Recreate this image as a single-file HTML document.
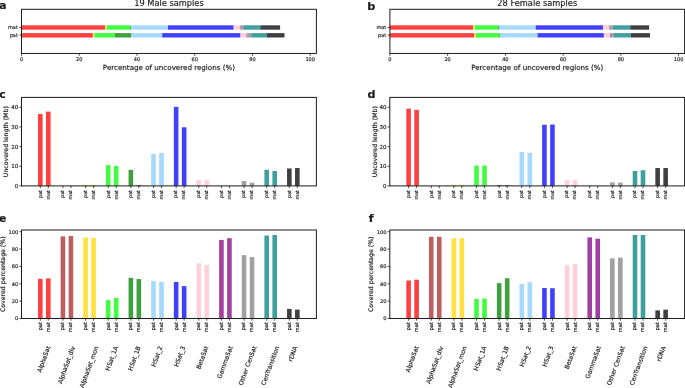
<!DOCTYPE html>
<html><head><meta charset="utf-8"><title>Uncovered regions</title>
<style>
html,body{margin:0;padding:0;background:#fff;}
svg{display:block;}
text{font-family:"DejaVu Sans","Liberation Sans",sans-serif;fill:#1a1a1a;stroke:#1a1a1a;stroke-width:0.16px;stroke-linejoin:round;}
</style></head><body>
<svg width="685" height="388" viewBox="0 0 685 388">
<rect width="685" height="388" fill="#fff"/>
<rect x="21.50" y="25.30" width="83.60" height="4.40" fill="#ff4040"/>
<rect x="105.10" y="25.30" width="1.40" height="4.40" fill="#ffe140"/>
<rect x="106.50" y="25.30" width="23.80" height="4.40" fill="#40ff40"/>
<rect x="130.30" y="25.30" width="0.90" height="4.40" fill="#40a040"/>
<rect x="131.20" y="25.30" width="36.80" height="4.40" fill="#a5dafb"/>
<rect x="168.00" y="25.30" width="65.70" height="4.40" fill="#4040ff"/>
<rect x="233.70" y="25.30" width="6.40" height="4.40" fill="#ffd0d8"/>
<rect x="240.10" y="25.30" width="0.50" height="4.40" fill="#a040a0"/>
<rect x="240.60" y="25.30" width="3.40" height="4.40" fill="#a0a0a0"/>
<rect x="244.00" y="25.30" width="16.30" height="4.40" fill="#40a0a0"/>
<rect x="260.30" y="25.30" width="19.80" height="4.40" fill="#404040"/>
<rect x="21.50" y="33.10" width="71.40" height="4.40" fill="#ff4040"/>
<rect x="92.90" y="33.10" width="1.40" height="4.40" fill="#ffe140"/>
<rect x="94.30" y="33.10" width="20.60" height="4.40" fill="#40ff40"/>
<rect x="114.90" y="33.10" width="16.10" height="4.40" fill="#40a040"/>
<rect x="131.00" y="33.10" width="31.20" height="4.40" fill="#a5dafb"/>
<rect x="162.20" y="33.10" width="78.30" height="4.40" fill="#4040ff"/>
<rect x="240.50" y="33.10" width="6.10" height="4.40" fill="#ffd0d8"/>
<rect x="246.60" y="33.10" width="0.80" height="4.40" fill="#a040a0"/>
<rect x="247.40" y="33.10" width="3.80" height="4.40" fill="#a0a0a0"/>
<rect x="251.20" y="33.10" width="15.80" height="4.40" fill="#40a0a0"/>
<rect x="267.00" y="33.10" width="17.50" height="4.40" fill="#404040"/>
<rect x="21.50" y="9.30" width="294.90" height="44.15" fill="none" stroke="#1c1c1c" stroke-width="1.0"/>
<line x1="21.50" y1="53.45" x2="21.50" y2="55.75" stroke="#1c1c1c" stroke-width="0.8"/>
<text x="21.50" y="61.10" font-size="5.0" text-anchor="middle">0</text>
<line x1="79.24" y1="53.45" x2="79.24" y2="55.75" stroke="#1c1c1c" stroke-width="0.8"/>
<text x="79.24" y="61.10" font-size="5.0" text-anchor="middle">20</text>
<line x1="136.98" y1="53.45" x2="136.98" y2="55.75" stroke="#1c1c1c" stroke-width="0.8"/>
<text x="136.98" y="61.10" font-size="5.0" text-anchor="middle">40</text>
<line x1="194.72" y1="53.45" x2="194.72" y2="55.75" stroke="#1c1c1c" stroke-width="0.8"/>
<text x="194.72" y="61.10" font-size="5.0" text-anchor="middle">60</text>
<line x1="252.46" y1="53.45" x2="252.46" y2="55.75" stroke="#1c1c1c" stroke-width="0.8"/>
<text x="252.46" y="61.10" font-size="5.0" text-anchor="middle">80</text>
<line x1="310.20" y1="53.45" x2="310.20" y2="55.75" stroke="#1c1c1c" stroke-width="0.8"/>
<text x="310.20" y="61.10" font-size="5.0" text-anchor="middle">100</text>
<line x1="19.30" y1="27.50" x2="21.50" y2="27.50" stroke="#1c1c1c" stroke-width="0.8"/>
<text x="17.90" y="29.10" font-size="5.0" text-anchor="end">mat</text>
<line x1="19.30" y1="35.10" x2="21.50" y2="35.10" stroke="#1c1c1c" stroke-width="0.8"/>
<text x="17.90" y="36.70" font-size="5.0" text-anchor="end">pat</text>
<text x="168.95" y="6.00" font-size="8.25" text-anchor="middle">19 Male samples</text>
<text x="168.95" y="69.60" font-size="7.14" text-anchor="middle">Percentage of uncovered regions (%)</text>
<rect x="389.90" y="25.30" width="83.20" height="4.40" fill="#ff4040"/>
<rect x="473.10" y="25.30" width="1.60" height="4.40" fill="#ffe140"/>
<rect x="474.70" y="25.30" width="23.50" height="4.40" fill="#40ff40"/>
<rect x="498.20" y="25.30" width="0.80" height="4.40" fill="#40a040"/>
<rect x="499.00" y="25.30" width="36.70" height="4.40" fill="#a5dafb"/>
<rect x="535.70" y="25.30" width="67.30" height="4.40" fill="#4040ff"/>
<rect x="603.00" y="25.30" width="6.10" height="4.40" fill="#ffd0d8"/>
<rect x="609.10" y="25.30" width="0.50" height="4.40" fill="#a040a0"/>
<rect x="609.60" y="25.30" width="3.10" height="4.40" fill="#a0a0a0"/>
<rect x="612.70" y="25.30" width="17.50" height="4.40" fill="#40a0a0"/>
<rect x="630.20" y="25.30" width="18.90" height="4.40" fill="#404040"/>
<rect x="389.90" y="33.10" width="84.50" height="4.40" fill="#ff4040"/>
<rect x="474.40" y="33.10" width="1.60" height="4.40" fill="#ffe140"/>
<rect x="476.00" y="33.10" width="23.40" height="4.40" fill="#40ff40"/>
<rect x="499.40" y="33.10" width="1.00" height="4.40" fill="#40a040"/>
<rect x="500.40" y="33.10" width="37.20" height="4.40" fill="#a5dafb"/>
<rect x="537.60" y="33.10" width="66.30" height="4.40" fill="#4040ff"/>
<rect x="603.90" y="33.10" width="6.30" height="4.40" fill="#ffd0d8"/>
<rect x="610.20" y="33.10" width="0.70" height="4.40" fill="#a040a0"/>
<rect x="610.90" y="33.10" width="3.10" height="4.40" fill="#a0a0a0"/>
<rect x="614.00" y="33.10" width="16.70" height="4.40" fill="#40a0a0"/>
<rect x="630.70" y="33.10" width="19.30" height="4.40" fill="#404040"/>
<rect x="389.90" y="9.30" width="294.70" height="44.15" fill="none" stroke="#1c1c1c" stroke-width="1.0"/>
<line x1="389.90" y1="53.45" x2="389.90" y2="55.75" stroke="#1c1c1c" stroke-width="0.8"/>
<text x="389.90" y="61.10" font-size="5.0" text-anchor="middle">0</text>
<line x1="447.64" y1="53.45" x2="447.64" y2="55.75" stroke="#1c1c1c" stroke-width="0.8"/>
<text x="447.64" y="61.10" font-size="5.0" text-anchor="middle">20</text>
<line x1="505.38" y1="53.45" x2="505.38" y2="55.75" stroke="#1c1c1c" stroke-width="0.8"/>
<text x="505.38" y="61.10" font-size="5.0" text-anchor="middle">40</text>
<line x1="563.12" y1="53.45" x2="563.12" y2="55.75" stroke="#1c1c1c" stroke-width="0.8"/>
<text x="563.12" y="61.10" font-size="5.0" text-anchor="middle">60</text>
<line x1="620.86" y1="53.45" x2="620.86" y2="55.75" stroke="#1c1c1c" stroke-width="0.8"/>
<text x="620.86" y="61.10" font-size="5.0" text-anchor="middle">80</text>
<line x1="678.60" y1="53.45" x2="678.60" y2="55.75" stroke="#1c1c1c" stroke-width="0.8"/>
<text x="678.60" y="61.10" font-size="5.0" text-anchor="middle">100</text>
<line x1="387.70" y1="27.50" x2="389.90" y2="27.50" stroke="#1c1c1c" stroke-width="0.8"/>
<text x="386.30" y="29.10" font-size="5.0" text-anchor="end">mat</text>
<line x1="387.70" y1="35.10" x2="389.90" y2="35.10" stroke="#1c1c1c" stroke-width="0.8"/>
<text x="386.30" y="36.70" font-size="5.0" text-anchor="end">pat</text>
<text x="537.25" y="6.00" font-size="8.25" text-anchor="middle">28 Female samples</text>
<text x="537.25" y="69.60" font-size="7.14" text-anchor="middle">Percentage of uncovered regions (%)</text>
<rect x="38.00" y="113.96" width="4.60" height="71.94" fill="#ff4040"/>
<rect x="46.00" y="111.61" width="4.60" height="74.29" fill="#ff4040"/>
<rect x="83.28" y="184.81" width="4.60" height="1.09" fill="#ffe140"/>
<rect x="91.28" y="184.81" width="4.60" height="1.09" fill="#ffe140"/>
<rect x="105.92" y="165.12" width="4.60" height="20.78" fill="#40ff40"/>
<rect x="113.92" y="165.90" width="4.60" height="20.00" fill="#40ff40"/>
<rect x="128.56" y="169.82" width="4.60" height="16.08" fill="#40a040"/>
<rect x="136.56" y="184.91" width="4.60" height="0.99" fill="#40a040"/>
<rect x="151.20" y="153.94" width="4.60" height="31.96" fill="#a5dafb"/>
<rect x="159.20" y="152.96" width="4.60" height="32.94" fill="#a5dafb"/>
<rect x="173.84" y="106.90" width="4.60" height="79.00" fill="#4040ff"/>
<rect x="181.84" y="127.29" width="4.60" height="58.61" fill="#4040ff"/>
<rect x="196.48" y="180.01" width="4.60" height="5.89" fill="#ffd0d8"/>
<rect x="204.48" y="180.01" width="4.60" height="5.89" fill="#ffd0d8"/>
<rect x="241.76" y="180.99" width="4.60" height="4.91" fill="#a0a0a0"/>
<rect x="249.76" y="182.76" width="4.60" height="3.14" fill="#a0a0a0"/>
<rect x="264.40" y="169.82" width="4.60" height="16.08" fill="#40a0a0"/>
<rect x="272.40" y="171.00" width="4.60" height="14.90" fill="#40a0a0"/>
<rect x="287.04" y="168.45" width="4.60" height="17.45" fill="#404040"/>
<rect x="295.04" y="168.06" width="4.60" height="17.84" fill="#404040"/>
<rect x="21.50" y="97.40" width="294.90" height="88.50" fill="none" stroke="#1c1c1c" stroke-width="1.0"/>
<line x1="19.30" y1="185.90" x2="21.50" y2="185.90" stroke="#1c1c1c" stroke-width="0.8"/>
<text x="18.30" y="187.91" font-size="5.5" text-anchor="end">0</text>
<line x1="19.30" y1="166.25" x2="21.50" y2="166.25" stroke="#1c1c1c" stroke-width="0.8"/>
<text x="18.30" y="168.26" font-size="5.5" text-anchor="end">10</text>
<line x1="19.30" y1="146.60" x2="21.50" y2="146.60" stroke="#1c1c1c" stroke-width="0.8"/>
<text x="18.30" y="148.61" font-size="5.5" text-anchor="end">20</text>
<line x1="19.30" y1="126.95" x2="21.50" y2="126.95" stroke="#1c1c1c" stroke-width="0.8"/>
<text x="18.30" y="128.96" font-size="5.5" text-anchor="end">30</text>
<line x1="19.30" y1="107.30" x2="21.50" y2="107.30" stroke="#1c1c1c" stroke-width="0.8"/>
<text x="18.30" y="109.31" font-size="5.5" text-anchor="end">40</text>
<line x1="40.30" y1="185.90" x2="40.30" y2="188.10" stroke="#1c1c1c" stroke-width="0.8"/>
<text x="41.64" y="190.00" font-size="4.8" text-anchor="end" transform="rotate(-90 41.64 190.00)">pat</text>
<line x1="48.30" y1="185.90" x2="48.30" y2="188.10" stroke="#1c1c1c" stroke-width="0.8"/>
<text x="49.64" y="190.00" font-size="4.8" text-anchor="end" transform="rotate(-90 49.64 190.00)">mat</text>
<line x1="62.94" y1="185.90" x2="62.94" y2="188.10" stroke="#1c1c1c" stroke-width="0.8"/>
<text x="64.28" y="190.00" font-size="4.8" text-anchor="end" transform="rotate(-90 64.28 190.00)">pat</text>
<line x1="70.94" y1="185.90" x2="70.94" y2="188.10" stroke="#1c1c1c" stroke-width="0.8"/>
<text x="72.28" y="190.00" font-size="4.8" text-anchor="end" transform="rotate(-90 72.28 190.00)">mat</text>
<line x1="85.58" y1="185.90" x2="85.58" y2="188.10" stroke="#1c1c1c" stroke-width="0.8"/>
<text x="86.92" y="190.00" font-size="4.8" text-anchor="end" transform="rotate(-90 86.92 190.00)">pat</text>
<line x1="93.58" y1="185.90" x2="93.58" y2="188.10" stroke="#1c1c1c" stroke-width="0.8"/>
<text x="94.92" y="190.00" font-size="4.8" text-anchor="end" transform="rotate(-90 94.92 190.00)">mat</text>
<line x1="108.22" y1="185.90" x2="108.22" y2="188.10" stroke="#1c1c1c" stroke-width="0.8"/>
<text x="109.56" y="190.00" font-size="4.8" text-anchor="end" transform="rotate(-90 109.56 190.00)">pat</text>
<line x1="116.22" y1="185.90" x2="116.22" y2="188.10" stroke="#1c1c1c" stroke-width="0.8"/>
<text x="117.56" y="190.00" font-size="4.8" text-anchor="end" transform="rotate(-90 117.56 190.00)">mat</text>
<line x1="130.86" y1="185.90" x2="130.86" y2="188.10" stroke="#1c1c1c" stroke-width="0.8"/>
<text x="132.20" y="190.00" font-size="4.8" text-anchor="end" transform="rotate(-90 132.20 190.00)">pat</text>
<line x1="138.86" y1="185.90" x2="138.86" y2="188.10" stroke="#1c1c1c" stroke-width="0.8"/>
<text x="140.20" y="190.00" font-size="4.8" text-anchor="end" transform="rotate(-90 140.20 190.00)">mat</text>
<line x1="153.50" y1="185.90" x2="153.50" y2="188.10" stroke="#1c1c1c" stroke-width="0.8"/>
<text x="154.84" y="190.00" font-size="4.8" text-anchor="end" transform="rotate(-90 154.84 190.00)">pat</text>
<line x1="161.50" y1="185.90" x2="161.50" y2="188.10" stroke="#1c1c1c" stroke-width="0.8"/>
<text x="162.84" y="190.00" font-size="4.8" text-anchor="end" transform="rotate(-90 162.84 190.00)">mat</text>
<line x1="176.14" y1="185.90" x2="176.14" y2="188.10" stroke="#1c1c1c" stroke-width="0.8"/>
<text x="177.48" y="190.00" font-size="4.8" text-anchor="end" transform="rotate(-90 177.48 190.00)">pat</text>
<line x1="184.14" y1="185.90" x2="184.14" y2="188.10" stroke="#1c1c1c" stroke-width="0.8"/>
<text x="185.48" y="190.00" font-size="4.8" text-anchor="end" transform="rotate(-90 185.48 190.00)">mat</text>
<line x1="198.78" y1="185.90" x2="198.78" y2="188.10" stroke="#1c1c1c" stroke-width="0.8"/>
<text x="200.12" y="190.00" font-size="4.8" text-anchor="end" transform="rotate(-90 200.12 190.00)">pat</text>
<line x1="206.78" y1="185.90" x2="206.78" y2="188.10" stroke="#1c1c1c" stroke-width="0.8"/>
<text x="208.12" y="190.00" font-size="4.8" text-anchor="end" transform="rotate(-90 208.12 190.00)">mat</text>
<line x1="221.42" y1="185.90" x2="221.42" y2="188.10" stroke="#1c1c1c" stroke-width="0.8"/>
<text x="222.76" y="190.00" font-size="4.8" text-anchor="end" transform="rotate(-90 222.76 190.00)">pat</text>
<line x1="229.42" y1="185.90" x2="229.42" y2="188.10" stroke="#1c1c1c" stroke-width="0.8"/>
<text x="230.76" y="190.00" font-size="4.8" text-anchor="end" transform="rotate(-90 230.76 190.00)">mat</text>
<line x1="244.06" y1="185.90" x2="244.06" y2="188.10" stroke="#1c1c1c" stroke-width="0.8"/>
<text x="245.40" y="190.00" font-size="4.8" text-anchor="end" transform="rotate(-90 245.40 190.00)">pat</text>
<line x1="252.06" y1="185.90" x2="252.06" y2="188.10" stroke="#1c1c1c" stroke-width="0.8"/>
<text x="253.40" y="190.00" font-size="4.8" text-anchor="end" transform="rotate(-90 253.40 190.00)">mat</text>
<line x1="266.70" y1="185.90" x2="266.70" y2="188.10" stroke="#1c1c1c" stroke-width="0.8"/>
<text x="268.04" y="190.00" font-size="4.8" text-anchor="end" transform="rotate(-90 268.04 190.00)">pat</text>
<line x1="274.70" y1="185.90" x2="274.70" y2="188.10" stroke="#1c1c1c" stroke-width="0.8"/>
<text x="276.04" y="190.00" font-size="4.8" text-anchor="end" transform="rotate(-90 276.04 190.00)">mat</text>
<line x1="289.34" y1="185.90" x2="289.34" y2="188.10" stroke="#1c1c1c" stroke-width="0.8"/>
<text x="290.68" y="190.00" font-size="4.8" text-anchor="end" transform="rotate(-90 290.68 190.00)">pat</text>
<line x1="297.34" y1="185.90" x2="297.34" y2="188.10" stroke="#1c1c1c" stroke-width="0.8"/>
<text x="298.68" y="190.00" font-size="4.8" text-anchor="end" transform="rotate(-90 298.68 190.00)">mat</text>
<text x="8.00" y="141.65" font-size="6.2" text-anchor="middle" transform="rotate(-90 8.00 141.65)">Uncovered length (Mb)</text>
<rect x="406.30" y="108.67" width="4.60" height="77.23" fill="#ff4040"/>
<rect x="414.30" y="109.84" width="4.60" height="76.06" fill="#ff4040"/>
<rect x="451.58" y="184.72" width="4.60" height="1.18" fill="#ffe140"/>
<rect x="459.58" y="184.72" width="4.60" height="1.18" fill="#ffe140"/>
<rect x="474.22" y="165.51" width="4.60" height="20.39" fill="#40ff40"/>
<rect x="482.22" y="165.51" width="4.60" height="20.39" fill="#40ff40"/>
<rect x="496.86" y="184.91" width="4.60" height="0.99" fill="#40a040"/>
<rect x="504.86" y="185.01" width="4.60" height="0.89" fill="#40a040"/>
<rect x="519.50" y="151.98" width="4.60" height="33.92" fill="#a5dafb"/>
<rect x="527.50" y="152.77" width="4.60" height="33.13" fill="#a5dafb"/>
<rect x="542.14" y="124.74" width="4.60" height="61.16" fill="#4040ff"/>
<rect x="550.14" y="124.54" width="4.60" height="61.36" fill="#4040ff"/>
<rect x="564.78" y="180.01" width="4.60" height="5.89" fill="#ffd0d8"/>
<rect x="572.78" y="180.01" width="4.60" height="5.89" fill="#ffd0d8"/>
<rect x="610.06" y="182.36" width="4.60" height="3.54" fill="#a0a0a0"/>
<rect x="618.06" y="182.56" width="4.60" height="3.34" fill="#a0a0a0"/>
<rect x="632.70" y="171.00" width="4.60" height="14.90" fill="#40a0a0"/>
<rect x="640.70" y="170.21" width="4.60" height="15.69" fill="#40a0a0"/>
<rect x="655.34" y="168.06" width="4.60" height="17.84" fill="#404040"/>
<rect x="663.34" y="168.06" width="4.60" height="17.84" fill="#404040"/>
<rect x="389.80" y="97.40" width="294.80" height="88.50" fill="none" stroke="#1c1c1c" stroke-width="1.0"/>
<line x1="387.60" y1="185.90" x2="389.80" y2="185.90" stroke="#1c1c1c" stroke-width="0.8"/>
<text x="386.60" y="187.91" font-size="5.5" text-anchor="end">0</text>
<line x1="387.60" y1="166.25" x2="389.80" y2="166.25" stroke="#1c1c1c" stroke-width="0.8"/>
<text x="386.60" y="168.26" font-size="5.5" text-anchor="end">10</text>
<line x1="387.60" y1="146.60" x2="389.80" y2="146.60" stroke="#1c1c1c" stroke-width="0.8"/>
<text x="386.60" y="148.61" font-size="5.5" text-anchor="end">20</text>
<line x1="387.60" y1="126.95" x2="389.80" y2="126.95" stroke="#1c1c1c" stroke-width="0.8"/>
<text x="386.60" y="128.96" font-size="5.5" text-anchor="end">30</text>
<line x1="387.60" y1="107.30" x2="389.80" y2="107.30" stroke="#1c1c1c" stroke-width="0.8"/>
<text x="386.60" y="109.31" font-size="5.5" text-anchor="end">40</text>
<line x1="408.60" y1="185.90" x2="408.60" y2="188.10" stroke="#1c1c1c" stroke-width="0.8"/>
<text x="409.94" y="190.00" font-size="4.8" text-anchor="end" transform="rotate(-90 409.94 190.00)">pat</text>
<line x1="416.60" y1="185.90" x2="416.60" y2="188.10" stroke="#1c1c1c" stroke-width="0.8"/>
<text x="417.94" y="190.00" font-size="4.8" text-anchor="end" transform="rotate(-90 417.94 190.00)">mat</text>
<line x1="431.24" y1="185.90" x2="431.24" y2="188.10" stroke="#1c1c1c" stroke-width="0.8"/>
<text x="432.58" y="190.00" font-size="4.8" text-anchor="end" transform="rotate(-90 432.58 190.00)">pat</text>
<line x1="439.24" y1="185.90" x2="439.24" y2="188.10" stroke="#1c1c1c" stroke-width="0.8"/>
<text x="440.58" y="190.00" font-size="4.8" text-anchor="end" transform="rotate(-90 440.58 190.00)">mat</text>
<line x1="453.88" y1="185.90" x2="453.88" y2="188.10" stroke="#1c1c1c" stroke-width="0.8"/>
<text x="455.22" y="190.00" font-size="4.8" text-anchor="end" transform="rotate(-90 455.22 190.00)">pat</text>
<line x1="461.88" y1="185.90" x2="461.88" y2="188.10" stroke="#1c1c1c" stroke-width="0.8"/>
<text x="463.22" y="190.00" font-size="4.8" text-anchor="end" transform="rotate(-90 463.22 190.00)">mat</text>
<line x1="476.52" y1="185.90" x2="476.52" y2="188.10" stroke="#1c1c1c" stroke-width="0.8"/>
<text x="477.86" y="190.00" font-size="4.8" text-anchor="end" transform="rotate(-90 477.86 190.00)">pat</text>
<line x1="484.52" y1="185.90" x2="484.52" y2="188.10" stroke="#1c1c1c" stroke-width="0.8"/>
<text x="485.86" y="190.00" font-size="4.8" text-anchor="end" transform="rotate(-90 485.86 190.00)">mat</text>
<line x1="499.16" y1="185.90" x2="499.16" y2="188.10" stroke="#1c1c1c" stroke-width="0.8"/>
<text x="500.50" y="190.00" font-size="4.8" text-anchor="end" transform="rotate(-90 500.50 190.00)">pat</text>
<line x1="507.16" y1="185.90" x2="507.16" y2="188.10" stroke="#1c1c1c" stroke-width="0.8"/>
<text x="508.50" y="190.00" font-size="4.8" text-anchor="end" transform="rotate(-90 508.50 190.00)">mat</text>
<line x1="521.80" y1="185.90" x2="521.80" y2="188.10" stroke="#1c1c1c" stroke-width="0.8"/>
<text x="523.14" y="190.00" font-size="4.8" text-anchor="end" transform="rotate(-90 523.14 190.00)">pat</text>
<line x1="529.80" y1="185.90" x2="529.80" y2="188.10" stroke="#1c1c1c" stroke-width="0.8"/>
<text x="531.14" y="190.00" font-size="4.8" text-anchor="end" transform="rotate(-90 531.14 190.00)">mat</text>
<line x1="544.44" y1="185.90" x2="544.44" y2="188.10" stroke="#1c1c1c" stroke-width="0.8"/>
<text x="545.78" y="190.00" font-size="4.8" text-anchor="end" transform="rotate(-90 545.78 190.00)">pat</text>
<line x1="552.44" y1="185.90" x2="552.44" y2="188.10" stroke="#1c1c1c" stroke-width="0.8"/>
<text x="553.78" y="190.00" font-size="4.8" text-anchor="end" transform="rotate(-90 553.78 190.00)">mat</text>
<line x1="567.08" y1="185.90" x2="567.08" y2="188.10" stroke="#1c1c1c" stroke-width="0.8"/>
<text x="568.42" y="190.00" font-size="4.8" text-anchor="end" transform="rotate(-90 568.42 190.00)">pat</text>
<line x1="575.08" y1="185.90" x2="575.08" y2="188.10" stroke="#1c1c1c" stroke-width="0.8"/>
<text x="576.42" y="190.00" font-size="4.8" text-anchor="end" transform="rotate(-90 576.42 190.00)">mat</text>
<line x1="589.72" y1="185.90" x2="589.72" y2="188.10" stroke="#1c1c1c" stroke-width="0.8"/>
<text x="591.06" y="190.00" font-size="4.8" text-anchor="end" transform="rotate(-90 591.06 190.00)">pat</text>
<line x1="597.72" y1="185.90" x2="597.72" y2="188.10" stroke="#1c1c1c" stroke-width="0.8"/>
<text x="599.06" y="190.00" font-size="4.8" text-anchor="end" transform="rotate(-90 599.06 190.00)">mat</text>
<line x1="612.36" y1="185.90" x2="612.36" y2="188.10" stroke="#1c1c1c" stroke-width="0.8"/>
<text x="613.70" y="190.00" font-size="4.8" text-anchor="end" transform="rotate(-90 613.70 190.00)">pat</text>
<line x1="620.36" y1="185.90" x2="620.36" y2="188.10" stroke="#1c1c1c" stroke-width="0.8"/>
<text x="621.70" y="190.00" font-size="4.8" text-anchor="end" transform="rotate(-90 621.70 190.00)">mat</text>
<line x1="635.00" y1="185.90" x2="635.00" y2="188.10" stroke="#1c1c1c" stroke-width="0.8"/>
<text x="636.34" y="190.00" font-size="4.8" text-anchor="end" transform="rotate(-90 636.34 190.00)">pat</text>
<line x1="643.00" y1="185.90" x2="643.00" y2="188.10" stroke="#1c1c1c" stroke-width="0.8"/>
<text x="644.34" y="190.00" font-size="4.8" text-anchor="end" transform="rotate(-90 644.34 190.00)">mat</text>
<line x1="657.64" y1="185.90" x2="657.64" y2="188.10" stroke="#1c1c1c" stroke-width="0.8"/>
<text x="658.98" y="190.00" font-size="4.8" text-anchor="end" transform="rotate(-90 658.98 190.00)">pat</text>
<line x1="665.64" y1="185.90" x2="665.64" y2="188.10" stroke="#1c1c1c" stroke-width="0.8"/>
<text x="666.98" y="190.00" font-size="4.8" text-anchor="end" transform="rotate(-90 666.98 190.00)">mat</text>
<text x="376.60" y="141.65" font-size="6.2" text-anchor="middle" transform="rotate(-90 376.60 141.65)">Uncovered length (Mb)</text>
<rect x="38.00" y="278.81" width="4.60" height="39.69" fill="#ff4040"/>
<rect x="46.00" y="278.38" width="4.60" height="40.12" fill="#ff4040"/>
<rect x="60.64" y="236.38" width="4.60" height="82.12" fill="#bc5f5f"/>
<rect x="68.64" y="236.03" width="4.60" height="82.47" fill="#bc5f5f"/>
<rect x="83.28" y="237.59" width="4.60" height="80.91" fill="#ffe140"/>
<rect x="91.28" y="238.02" width="4.60" height="80.48" fill="#ffe140"/>
<rect x="105.92" y="300.03" width="4.60" height="18.47" fill="#40ff40"/>
<rect x="113.92" y="297.96" width="4.60" height="20.54" fill="#40ff40"/>
<rect x="128.56" y="277.87" width="4.60" height="40.63" fill="#40a040"/>
<rect x="136.56" y="279.07" width="4.60" height="39.43" fill="#40a040"/>
<rect x="151.20" y="281.06" width="4.60" height="37.44" fill="#a5dafb"/>
<rect x="159.20" y="281.92" width="4.60" height="36.58" fill="#a5dafb"/>
<rect x="173.84" y="281.92" width="4.60" height="36.58" fill="#4040ff"/>
<rect x="181.84" y="286.15" width="4.60" height="32.35" fill="#4040ff"/>
<rect x="196.48" y="263.20" width="4.60" height="55.30" fill="#ffd0d8"/>
<rect x="204.48" y="264.93" width="4.60" height="53.57" fill="#ffd0d8"/>
<rect x="219.12" y="239.92" width="4.60" height="78.58" fill="#a040a0"/>
<rect x="227.12" y="238.19" width="4.60" height="80.31" fill="#a040a0"/>
<rect x="241.76" y="255.18" width="4.60" height="63.32" fill="#a0a0a0"/>
<rect x="249.76" y="257.08" width="4.60" height="61.42" fill="#a0a0a0"/>
<rect x="264.40" y="235.52" width="4.60" height="82.98" fill="#40a0a0"/>
<rect x="272.40" y="235.00" width="4.60" height="83.50" fill="#40a0a0"/>
<rect x="287.04" y="308.92" width="4.60" height="9.58" fill="#404040"/>
<rect x="295.04" y="309.61" width="4.60" height="8.89" fill="#404040"/>
<rect x="21.50" y="230.00" width="294.90" height="88.50" fill="none" stroke="#1c1c1c" stroke-width="1.0"/>
<line x1="19.30" y1="318.50" x2="21.50" y2="318.50" stroke="#1c1c1c" stroke-width="0.8"/>
<text x="18.30" y="320.36" font-size="5.1" text-anchor="end">0</text>
<line x1="19.30" y1="301.14" x2="21.50" y2="301.14" stroke="#1c1c1c" stroke-width="0.8"/>
<text x="18.30" y="303.00" font-size="5.1" text-anchor="end">20</text>
<line x1="19.30" y1="283.78" x2="21.50" y2="283.78" stroke="#1c1c1c" stroke-width="0.8"/>
<text x="18.30" y="285.64" font-size="5.1" text-anchor="end">40</text>
<line x1="19.30" y1="266.42" x2="21.50" y2="266.42" stroke="#1c1c1c" stroke-width="0.8"/>
<text x="18.30" y="268.28" font-size="5.1" text-anchor="end">60</text>
<line x1="19.30" y1="249.06" x2="21.50" y2="249.06" stroke="#1c1c1c" stroke-width="0.8"/>
<text x="18.30" y="250.92" font-size="5.1" text-anchor="end">80</text>
<line x1="19.30" y1="231.70" x2="21.50" y2="231.70" stroke="#1c1c1c" stroke-width="0.8"/>
<text x="18.30" y="233.56" font-size="5.1" text-anchor="end">100</text>
<line x1="40.30" y1="318.50" x2="40.30" y2="320.70" stroke="#1c1c1c" stroke-width="0.8"/>
<text x="41.73" y="322.10" font-size="5.1" text-anchor="end" transform="rotate(-90 41.73 322.10)">pat</text>
<line x1="48.30" y1="318.50" x2="48.30" y2="320.70" stroke="#1c1c1c" stroke-width="0.8"/>
<text x="49.73" y="322.10" font-size="5.1" text-anchor="end" transform="rotate(-90 49.73 322.10)">mat</text>
<text x="41.11" y="372.68" font-size="6.1" text-anchor="start" transform="rotate(-70 41.11 372.68)">AlphaSat</text>
<line x1="62.94" y1="318.50" x2="62.94" y2="320.70" stroke="#1c1c1c" stroke-width="0.8"/>
<text x="64.37" y="322.10" font-size="5.1" text-anchor="end" transform="rotate(-90 64.37 322.10)">pat</text>
<line x1="70.94" y1="318.50" x2="70.94" y2="320.70" stroke="#1c1c1c" stroke-width="0.8"/>
<text x="72.37" y="322.10" font-size="5.1" text-anchor="end" transform="rotate(-90 72.37 322.10)">mat</text>
<text x="61.66" y="384.17" font-size="6.1" text-anchor="start" transform="rotate(-70 61.66 384.17)">AlphaSat_div</text>
<line x1="85.58" y1="318.50" x2="85.58" y2="320.70" stroke="#1c1c1c" stroke-width="0.8"/>
<text x="87.01" y="322.10" font-size="5.1" text-anchor="end" transform="rotate(-90 87.01 322.10)">pat</text>
<line x1="93.58" y1="318.50" x2="93.58" y2="320.70" stroke="#1c1c1c" stroke-width="0.8"/>
<text x="95.01" y="322.10" font-size="5.1" text-anchor="end" transform="rotate(-90 95.01 322.10)">mat</text>
<text x="83.56" y="388.27" font-size="6.1" text-anchor="start" transform="rotate(-70 83.56 388.27)">AlphaSat_mon</text>
<line x1="108.22" y1="318.50" x2="108.22" y2="320.70" stroke="#1c1c1c" stroke-width="0.8"/>
<text x="109.65" y="322.10" font-size="5.1" text-anchor="end" transform="rotate(-90 109.65 322.10)">pat</text>
<line x1="116.22" y1="318.50" x2="116.22" y2="320.70" stroke="#1c1c1c" stroke-width="0.8"/>
<text x="117.65" y="322.10" font-size="5.1" text-anchor="end" transform="rotate(-90 117.65 322.10)">mat</text>
<text x="109.32" y="371.13" font-size="6.1" text-anchor="start" transform="rotate(-70 109.32 371.13)">HSat_1A</text>
<line x1="130.86" y1="318.50" x2="130.86" y2="320.70" stroke="#1c1c1c" stroke-width="0.8"/>
<text x="132.29" y="322.10" font-size="5.1" text-anchor="end" transform="rotate(-90 132.29 322.10)">pat</text>
<line x1="138.86" y1="318.50" x2="138.86" y2="320.70" stroke="#1c1c1c" stroke-width="0.8"/>
<text x="140.29" y="322.10" font-size="5.1" text-anchor="end" transform="rotate(-90 140.29 322.10)">mat</text>
<text x="131.95" y="371.14" font-size="6.1" text-anchor="start" transform="rotate(-70 131.95 371.14)">HSat_1B</text>
<line x1="153.50" y1="318.50" x2="153.50" y2="320.70" stroke="#1c1c1c" stroke-width="0.8"/>
<text x="154.93" y="322.10" font-size="5.1" text-anchor="end" transform="rotate(-90 154.93 322.10)">pat</text>
<line x1="161.50" y1="318.50" x2="161.50" y2="320.70" stroke="#1c1c1c" stroke-width="0.8"/>
<text x="162.93" y="322.10" font-size="5.1" text-anchor="end" transform="rotate(-90 162.93 322.10)">mat</text>
<text x="155.31" y="367.21" font-size="6.1" text-anchor="start" transform="rotate(-70 155.31 367.21)">HSat_2</text>
<line x1="176.14" y1="318.50" x2="176.14" y2="320.70" stroke="#1c1c1c" stroke-width="0.8"/>
<text x="177.57" y="322.10" font-size="5.1" text-anchor="end" transform="rotate(-90 177.57 322.10)">pat</text>
<line x1="184.14" y1="318.50" x2="184.14" y2="320.70" stroke="#1c1c1c" stroke-width="0.8"/>
<text x="185.57" y="322.10" font-size="5.1" text-anchor="end" transform="rotate(-90 185.57 322.10)">mat</text>
<text x="177.95" y="367.21" font-size="6.1" text-anchor="start" transform="rotate(-70 177.95 367.21)">HSat_3</text>
<line x1="198.78" y1="318.50" x2="198.78" y2="320.70" stroke="#1c1c1c" stroke-width="0.8"/>
<text x="200.21" y="322.10" font-size="5.1" text-anchor="end" transform="rotate(-90 200.21 322.10)">pat</text>
<line x1="206.78" y1="318.50" x2="206.78" y2="320.70" stroke="#1c1c1c" stroke-width="0.8"/>
<text x="208.21" y="322.10" font-size="5.1" text-anchor="end" transform="rotate(-90 208.21 322.10)">mat</text>
<text x="200.15" y="369.60" font-size="6.1" text-anchor="start" transform="rotate(-70 200.15 369.60)">BetaSat</text>
<line x1="221.42" y1="318.50" x2="221.42" y2="320.70" stroke="#1c1c1c" stroke-width="0.8"/>
<text x="222.85" y="322.10" font-size="5.1" text-anchor="end" transform="rotate(-90 222.85 322.10)">pat</text>
<line x1="229.42" y1="318.50" x2="229.42" y2="320.70" stroke="#1c1c1c" stroke-width="0.8"/>
<text x="230.85" y="322.10" font-size="5.1" text-anchor="end" transform="rotate(-90 230.85 322.10)">mat</text>
<text x="221.08" y="379.02" font-size="6.1" text-anchor="start" transform="rotate(-70 221.08 379.02)">GammaSat</text>
<line x1="244.06" y1="318.50" x2="244.06" y2="320.70" stroke="#1c1c1c" stroke-width="0.8"/>
<text x="245.49" y="322.10" font-size="5.1" text-anchor="end" transform="rotate(-90 245.49 322.10)">pat</text>
<line x1="252.06" y1="318.50" x2="252.06" y2="320.70" stroke="#1c1c1c" stroke-width="0.8"/>
<text x="253.49" y="322.10" font-size="5.1" text-anchor="end" transform="rotate(-90 253.49 322.10)">mat</text>
<text x="242.52" y="385.64" font-size="6.1" text-anchor="start" transform="rotate(-70 242.52 385.64)">Other CenSat</text>
<line x1="266.70" y1="318.50" x2="266.70" y2="320.70" stroke="#1c1c1c" stroke-width="0.8"/>
<text x="268.13" y="322.10" font-size="5.1" text-anchor="end" transform="rotate(-90 268.13 322.10)">pat</text>
<line x1="274.70" y1="318.50" x2="274.70" y2="320.70" stroke="#1c1c1c" stroke-width="0.8"/>
<text x="276.13" y="322.10" font-size="5.1" text-anchor="end" transform="rotate(-90 276.13 322.10)">mat</text>
<text x="265.11" y="385.87" font-size="6.1" text-anchor="start" transform="rotate(-70 265.11 385.87)">CenTransition</text>
<line x1="289.34" y1="318.50" x2="289.34" y2="320.70" stroke="#1c1c1c" stroke-width="0.8"/>
<text x="290.77" y="322.10" font-size="5.1" text-anchor="end" transform="rotate(-90 290.77 322.10)">pat</text>
<line x1="297.34" y1="318.50" x2="297.34" y2="320.70" stroke="#1c1c1c" stroke-width="0.8"/>
<text x="298.77" y="322.10" font-size="5.1" text-anchor="end" transform="rotate(-90 298.77 322.10)">mat</text>
<text x="292.10" y="361.97" font-size="6.1" text-anchor="start" transform="rotate(-70 292.10 361.97)">rDNA</text>
<text x="5.10" y="274.25" font-size="6.2" text-anchor="middle" transform="rotate(-90 5.10 274.25)">Covered percentage (%)</text>
<rect x="406.30" y="280.54" width="4.60" height="37.96" fill="#ff4040"/>
<rect x="414.30" y="279.68" width="4.60" height="38.82" fill="#ff4040"/>
<rect x="428.94" y="236.81" width="4.60" height="81.69" fill="#bc5f5f"/>
<rect x="436.94" y="236.81" width="4.60" height="81.69" fill="#bc5f5f"/>
<rect x="451.58" y="238.19" width="4.60" height="80.31" fill="#ffe140"/>
<rect x="459.58" y="238.19" width="4.60" height="80.31" fill="#ffe140"/>
<rect x="474.22" y="298.91" width="4.60" height="19.59" fill="#40ff40"/>
<rect x="482.22" y="298.57" width="4.60" height="19.93" fill="#40ff40"/>
<rect x="496.86" y="283.13" width="4.60" height="35.37" fill="#40a040"/>
<rect x="504.86" y="278.21" width="4.60" height="40.29" fill="#40a040"/>
<rect x="519.50" y="283.99" width="4.60" height="34.51" fill="#a5dafb"/>
<rect x="527.50" y="282.26" width="4.60" height="36.24" fill="#a5dafb"/>
<rect x="542.14" y="288.04" width="4.60" height="30.46" fill="#4040ff"/>
<rect x="550.14" y="288.22" width="4.60" height="30.28" fill="#4040ff"/>
<rect x="564.78" y="265.36" width="4.60" height="53.14" fill="#ffd0d8"/>
<rect x="572.78" y="263.98" width="4.60" height="54.52" fill="#ffd0d8"/>
<rect x="587.42" y="237.33" width="4.60" height="81.17" fill="#a040a0"/>
<rect x="595.42" y="238.71" width="4.60" height="79.79" fill="#a040a0"/>
<rect x="610.06" y="258.37" width="4.60" height="60.13" fill="#a0a0a0"/>
<rect x="618.06" y="257.68" width="4.60" height="60.82" fill="#a0a0a0"/>
<rect x="632.70" y="235.00" width="4.60" height="83.50" fill="#40a0a0"/>
<rect x="640.70" y="235.00" width="4.60" height="83.50" fill="#40a0a0"/>
<rect x="655.34" y="310.38" width="4.60" height="8.12" fill="#404040"/>
<rect x="663.34" y="309.69" width="4.60" height="8.81" fill="#404040"/>
<rect x="389.80" y="230.00" width="294.80" height="88.50" fill="none" stroke="#1c1c1c" stroke-width="1.0"/>
<line x1="387.60" y1="318.50" x2="389.80" y2="318.50" stroke="#1c1c1c" stroke-width="0.8"/>
<text x="386.60" y="320.36" font-size="5.1" text-anchor="end">0</text>
<line x1="387.60" y1="301.14" x2="389.80" y2="301.14" stroke="#1c1c1c" stroke-width="0.8"/>
<text x="386.60" y="303.00" font-size="5.1" text-anchor="end">20</text>
<line x1="387.60" y1="283.78" x2="389.80" y2="283.78" stroke="#1c1c1c" stroke-width="0.8"/>
<text x="386.60" y="285.64" font-size="5.1" text-anchor="end">40</text>
<line x1="387.60" y1="266.42" x2="389.80" y2="266.42" stroke="#1c1c1c" stroke-width="0.8"/>
<text x="386.60" y="268.28" font-size="5.1" text-anchor="end">60</text>
<line x1="387.60" y1="249.06" x2="389.80" y2="249.06" stroke="#1c1c1c" stroke-width="0.8"/>
<text x="386.60" y="250.92" font-size="5.1" text-anchor="end">80</text>
<line x1="387.60" y1="231.70" x2="389.80" y2="231.70" stroke="#1c1c1c" stroke-width="0.8"/>
<text x="386.60" y="233.56" font-size="5.1" text-anchor="end">100</text>
<line x1="408.60" y1="318.50" x2="408.60" y2="320.70" stroke="#1c1c1c" stroke-width="0.8"/>
<text x="410.03" y="322.10" font-size="5.1" text-anchor="end" transform="rotate(-90 410.03 322.10)">pat</text>
<line x1="416.60" y1="318.50" x2="416.60" y2="320.70" stroke="#1c1c1c" stroke-width="0.8"/>
<text x="418.03" y="322.10" font-size="5.1" text-anchor="end" transform="rotate(-90 418.03 322.10)">mat</text>
<text x="409.41" y="372.68" font-size="6.1" text-anchor="start" transform="rotate(-70 409.41 372.68)">AlphaSat</text>
<line x1="431.24" y1="318.50" x2="431.24" y2="320.70" stroke="#1c1c1c" stroke-width="0.8"/>
<text x="432.67" y="322.10" font-size="5.1" text-anchor="end" transform="rotate(-90 432.67 322.10)">pat</text>
<line x1="439.24" y1="318.50" x2="439.24" y2="320.70" stroke="#1c1c1c" stroke-width="0.8"/>
<text x="440.67" y="322.10" font-size="5.1" text-anchor="end" transform="rotate(-90 440.67 322.10)">mat</text>
<text x="429.96" y="384.17" font-size="6.1" text-anchor="start" transform="rotate(-70 429.96 384.17)">AlphaSat_div</text>
<line x1="453.88" y1="318.50" x2="453.88" y2="320.70" stroke="#1c1c1c" stroke-width="0.8"/>
<text x="455.31" y="322.10" font-size="5.1" text-anchor="end" transform="rotate(-90 455.31 322.10)">pat</text>
<line x1="461.88" y1="318.50" x2="461.88" y2="320.70" stroke="#1c1c1c" stroke-width="0.8"/>
<text x="463.31" y="322.10" font-size="5.1" text-anchor="end" transform="rotate(-90 463.31 322.10)">mat</text>
<text x="451.86" y="388.27" font-size="6.1" text-anchor="start" transform="rotate(-70 451.86 388.27)">AlphaSat_mon</text>
<line x1="476.52" y1="318.50" x2="476.52" y2="320.70" stroke="#1c1c1c" stroke-width="0.8"/>
<text x="477.95" y="322.10" font-size="5.1" text-anchor="end" transform="rotate(-90 477.95 322.10)">pat</text>
<line x1="484.52" y1="318.50" x2="484.52" y2="320.70" stroke="#1c1c1c" stroke-width="0.8"/>
<text x="485.95" y="322.10" font-size="5.1" text-anchor="end" transform="rotate(-90 485.95 322.10)">mat</text>
<text x="477.62" y="371.13" font-size="6.1" text-anchor="start" transform="rotate(-70 477.62 371.13)">HSat_1A</text>
<line x1="499.16" y1="318.50" x2="499.16" y2="320.70" stroke="#1c1c1c" stroke-width="0.8"/>
<text x="500.59" y="322.10" font-size="5.1" text-anchor="end" transform="rotate(-90 500.59 322.10)">pat</text>
<line x1="507.16" y1="318.50" x2="507.16" y2="320.70" stroke="#1c1c1c" stroke-width="0.8"/>
<text x="508.59" y="322.10" font-size="5.1" text-anchor="end" transform="rotate(-90 508.59 322.10)">mat</text>
<text x="500.25" y="371.14" font-size="6.1" text-anchor="start" transform="rotate(-70 500.25 371.14)">HSat_1B</text>
<line x1="521.80" y1="318.50" x2="521.80" y2="320.70" stroke="#1c1c1c" stroke-width="0.8"/>
<text x="523.23" y="322.10" font-size="5.1" text-anchor="end" transform="rotate(-90 523.23 322.10)">pat</text>
<line x1="529.80" y1="318.50" x2="529.80" y2="320.70" stroke="#1c1c1c" stroke-width="0.8"/>
<text x="531.23" y="322.10" font-size="5.1" text-anchor="end" transform="rotate(-90 531.23 322.10)">mat</text>
<text x="523.61" y="367.21" font-size="6.1" text-anchor="start" transform="rotate(-70 523.61 367.21)">HSat_2</text>
<line x1="544.44" y1="318.50" x2="544.44" y2="320.70" stroke="#1c1c1c" stroke-width="0.8"/>
<text x="545.87" y="322.10" font-size="5.1" text-anchor="end" transform="rotate(-90 545.87 322.10)">pat</text>
<line x1="552.44" y1="318.50" x2="552.44" y2="320.70" stroke="#1c1c1c" stroke-width="0.8"/>
<text x="553.87" y="322.10" font-size="5.1" text-anchor="end" transform="rotate(-90 553.87 322.10)">mat</text>
<text x="546.25" y="367.21" font-size="6.1" text-anchor="start" transform="rotate(-70 546.25 367.21)">HSat_3</text>
<line x1="567.08" y1="318.50" x2="567.08" y2="320.70" stroke="#1c1c1c" stroke-width="0.8"/>
<text x="568.51" y="322.10" font-size="5.1" text-anchor="end" transform="rotate(-90 568.51 322.10)">pat</text>
<line x1="575.08" y1="318.50" x2="575.08" y2="320.70" stroke="#1c1c1c" stroke-width="0.8"/>
<text x="576.51" y="322.10" font-size="5.1" text-anchor="end" transform="rotate(-90 576.51 322.10)">mat</text>
<text x="568.45" y="369.60" font-size="6.1" text-anchor="start" transform="rotate(-70 568.45 369.60)">BetaSat</text>
<line x1="589.72" y1="318.50" x2="589.72" y2="320.70" stroke="#1c1c1c" stroke-width="0.8"/>
<text x="591.15" y="322.10" font-size="5.1" text-anchor="end" transform="rotate(-90 591.15 322.10)">pat</text>
<line x1="597.72" y1="318.50" x2="597.72" y2="320.70" stroke="#1c1c1c" stroke-width="0.8"/>
<text x="599.15" y="322.10" font-size="5.1" text-anchor="end" transform="rotate(-90 599.15 322.10)">mat</text>
<text x="589.38" y="379.02" font-size="6.1" text-anchor="start" transform="rotate(-70 589.38 379.02)">GammaSat</text>
<line x1="612.36" y1="318.50" x2="612.36" y2="320.70" stroke="#1c1c1c" stroke-width="0.8"/>
<text x="613.79" y="322.10" font-size="5.1" text-anchor="end" transform="rotate(-90 613.79 322.10)">pat</text>
<line x1="620.36" y1="318.50" x2="620.36" y2="320.70" stroke="#1c1c1c" stroke-width="0.8"/>
<text x="621.79" y="322.10" font-size="5.1" text-anchor="end" transform="rotate(-90 621.79 322.10)">mat</text>
<text x="610.82" y="385.64" font-size="6.1" text-anchor="start" transform="rotate(-70 610.82 385.64)">Other CenSat</text>
<line x1="635.00" y1="318.50" x2="635.00" y2="320.70" stroke="#1c1c1c" stroke-width="0.8"/>
<text x="636.43" y="322.10" font-size="5.1" text-anchor="end" transform="rotate(-90 636.43 322.10)">pat</text>
<line x1="643.00" y1="318.50" x2="643.00" y2="320.70" stroke="#1c1c1c" stroke-width="0.8"/>
<text x="644.43" y="322.10" font-size="5.1" text-anchor="end" transform="rotate(-90 644.43 322.10)">mat</text>
<text x="633.41" y="385.87" font-size="6.1" text-anchor="start" transform="rotate(-70 633.41 385.87)">CenTransition</text>
<line x1="657.64" y1="318.50" x2="657.64" y2="320.70" stroke="#1c1c1c" stroke-width="0.8"/>
<text x="659.07" y="322.10" font-size="5.1" text-anchor="end" transform="rotate(-90 659.07 322.10)">pat</text>
<line x1="665.64" y1="318.50" x2="665.64" y2="320.70" stroke="#1c1c1c" stroke-width="0.8"/>
<text x="667.07" y="322.10" font-size="5.1" text-anchor="end" transform="rotate(-90 667.07 322.10)">mat</text>
<text x="660.40" y="361.97" font-size="6.1" text-anchor="start" transform="rotate(-70 660.40 361.97)">rDNA</text>
<text x="372.80" y="274.25" font-size="6.2" text-anchor="middle" transform="rotate(-90 372.80 274.25)">Covered percentage (%)</text>
<text x="-0.80" y="8.80" font-size="10.8" text-anchor="start" font-weight="bold" font-family="'Liberation Sans', Arial, Helvetica, sans-serif" fill="#000" stroke="none">a</text>
<text x="367.30" y="9.50" font-size="11.2" text-anchor="start" font-weight="bold" font-family="'Liberation Sans', Arial, Helvetica, sans-serif" fill="#000" stroke="none">b</text>
<text x="-0.80" y="97.60" font-size="10.8" text-anchor="start" font-weight="bold" font-family="'Liberation Sans', Arial, Helvetica, sans-serif" fill="#000" stroke="none">c</text>
<text x="367.50" y="97.60" font-size="11.2" text-anchor="start" font-weight="bold" font-family="'Liberation Sans', Arial, Helvetica, sans-serif" fill="#000" stroke="none">d</text>
<text x="-1.00" y="221.90" font-size="10.8" text-anchor="start" font-weight="bold" font-family="'Liberation Sans', Arial, Helvetica, sans-serif" fill="#000" stroke="none">e</text>
<text x="368.70" y="221.70" font-size="11.2" text-anchor="start" font-weight="bold" font-family="'Liberation Sans', Arial, Helvetica, sans-serif" fill="#000" stroke="none">f</text>
</svg>
</body></html>
